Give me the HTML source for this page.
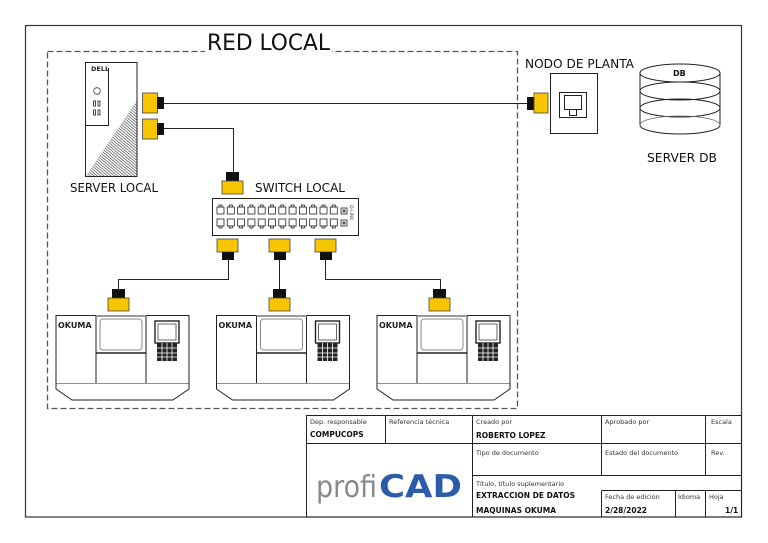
<!DOCTYPE html>
<html><head><meta charset="utf-8"><style>
html,body{margin:0;padding:0;background:#fff}
svg{display:block}
text{font-family:"DejaVu Sans","Liberation Sans",sans-serif}
</style></head><body>
<svg width="768" height="543" viewBox="0 0 768 543" xmlns="http://www.w3.org/2000/svg">
<defs>
<pattern id="hatch" width="2.2" height="2.2" patternUnits="userSpaceOnUse" patternTransform="rotate(-50)">
<rect width="2.2" height="2.2" fill="#fff"/><line x1="0" y1="0" x2="0" y2="2.2" stroke="#333" stroke-width="1.2"/>
</pattern>
<g id="portU"><rect x="0" y="2" width="7" height="7" fill="#fff" stroke="#222" stroke-width="0.8"/><rect x="2" y="0" width="3" height="2" fill="#fff" stroke="#222" stroke-width="0.8"/></g>
<g id="portD"><rect x="0" y="0" width="7" height="7" fill="#fff" stroke="#222" stroke-width="0.8"/><rect x="2" y="7" width="3" height="2" fill="#fff" stroke="#222" stroke-width="0.8"/></g>
<g id="conDown"><rect x="0" y="0" width="21" height="13" fill="#f7c600" stroke="#444" stroke-width="0.8"/><rect x="5" y="13" width="12" height="8" fill="#111"/></g>
<g id="conUp"><rect x="4" y="0" width="13" height="9" fill="#111"/><rect x="0" y="9" width="21" height="13" fill="#f7c600" stroke="#444" stroke-width="0.8"/></g>
<g id="machine" fill="none" stroke="#222" stroke-width="1">
<rect x="56" y="315.5" width="133" height="68" fill="#fff"/>
<path d="M56 383.5 V389 L72 400 H173 L189 389 V383.5" fill="#fff"/>
<line x1="96" y1="315.5" x2="96" y2="383.5"/>
<line x1="146" y1="315.5" x2="146" y2="383.5"/>
<rect x="96" y="315" width="50" height="2" fill="#999" stroke="none"/>
<line x1="96" y1="353" x2="146" y2="353" stroke-width="1.4"/>
<rect x="100" y="319" width="42" height="31" rx="3" stroke="#888"/>
<rect x="155" y="321" width="24" height="22" stroke-width="1.4"/>
<rect x="158" y="324" width="18" height="16" stroke="#666"/>
<rect x="157" y="343" width="20" height="18" fill="#222" stroke="none"/>
<path d="M157 348H177M157 353H177M157 357H177M162 343V361M167 343V361M172 343V361" stroke="#fff" stroke-width="0.8"/>
<text x="58" y="328" font-size="8" font-weight="bold" fill="#222" stroke="none">OKUMA</text>
</g>
</defs>

<rect x="25.5" y="25.5" width="716" height="491.5" fill="none" stroke="#333" stroke-width="1.2"/>
<rect x="47.5" y="51.5" width="470" height="357" fill="none" stroke="#555" stroke-width="1.3" stroke-dasharray="6,3"/>
<rect x="205" y="40" width="127" height="14" fill="#fff"/>
<text x="207" y="50" font-size="22" fill="#111" textLength="123" lengthAdjust="spacingAndGlyphs">RED LOCAL</text>

<rect x="85.5" y="62.5" width="51.5" height="114" fill="#fff" stroke="#222"/>
<polygon points="86,176 136.5,101 136.5,176" fill="url(#hatch)"/>
<path d="M108.5 68V125.5H85.5" fill="none" stroke="#222"/>
<text x="91" y="71" font-size="6.5" font-weight="bold" fill="#222">DELL</text>
<circle cx="97" cy="91" r="3.3" fill="none" stroke="#444" stroke-width="0.8"/>
<g fill="none" stroke="#222" stroke-width="0.8"><rect x="93.5" y="101" width="2" height="5"/><rect x="98" y="101" width="2" height="5"/><rect x="93.5" y="110" width="2" height="5"/><rect x="98" y="110" width="2" height="5"/></g>
<rect x="142.5" y="93" width="15" height="20" fill="#f7c600" stroke="#444" stroke-width="0.8"/><rect x="157" y="97" width="7" height="12" fill="#111"/>
<rect x="142.5" y="119" width="15" height="20" fill="#f7c600" stroke="#444" stroke-width="0.8"/><rect x="157" y="123" width="7" height="12" fill="#111"/>
<text x="70" y="192" font-size="12.5" fill="#111" textLength="88" lengthAdjust="spacingAndGlyphs">SERVER LOCAL</text>

<g fill="none" stroke="#222" stroke-width="1">
<path d="M164 103.5H527"/>
<path d="M164 128.5H233.5V172"/>
<path d="M228.5 260V279.5H118.5V290"/>
<path d="M279.5 260V290"/>
<path d="M325.5 260V279.5H440.5V290"/>
</g>

<use href="#conUp" x="222" y="172"/>
<text x="255" y="192" font-size="12.5" fill="#111" textLength="90" lengthAdjust="spacingAndGlyphs">SWITCH LOCAL</text>
<rect x="212.5" y="198.5" width="146" height="37" fill="#fff" stroke="#222"/>
<g>
<use href="#portU" x="217" y="205"/><use href="#portU" x="227.3" y="205"/><use href="#portU" x="237.6" y="205"/><use href="#portU" x="247.9" y="205"/><use href="#portU" x="258.2" y="205"/><use href="#portU" x="268.5" y="205"/><use href="#portU" x="278.8" y="205"/><use href="#portU" x="289.1" y="205"/><use href="#portU" x="299.4" y="205"/><use href="#portU" x="309.7" y="205"/><use href="#portU" x="320" y="205"/><use href="#portU" x="330.3" y="205"/>
<use href="#portD" x="217" y="219"/><use href="#portD" x="227.3" y="219"/><use href="#portD" x="237.6" y="219"/><use href="#portD" x="247.9" y="219"/><use href="#portD" x="258.2" y="219"/><use href="#portD" x="268.5" y="219"/><use href="#portD" x="278.8" y="219"/><use href="#portD" x="289.1" y="219"/><use href="#portD" x="299.4" y="219"/><use href="#portD" x="309.7" y="219"/><use href="#portD" x="320" y="219"/><use href="#portD" x="330.3" y="219"/>
<rect x="341" y="208" width="6" height="6" fill="#fff" stroke="#222" stroke-width="0.8"/><rect x="342.5" y="209.5" width="3" height="3" fill="#555"/>
<rect x="341" y="220" width="6" height="6" fill="#fff" stroke="#222" stroke-width="0.8"/><rect x="342.5" y="221.5" width="3" height="3" fill="#555"/>
<text x="0" y="0" font-size="4.5" fill="#333" transform="translate(350 205) rotate(90)">D-LINK</text>
</g>
<use href="#conDown" x="217" y="239"/>
<use href="#conDown" x="269" y="239"/>
<use href="#conDown" x="315" y="239"/>

<use href="#conUp" x="108" y="289"/>
<use href="#conUp" x="269" y="289"/>
<use href="#conUp" x="429" y="289"/>
<use href="#machine"/>
<use href="#machine" x="160.5"/>
<use href="#machine" x="321"/>

<text x="525" y="68" font-size="12.5" fill="#111" textLength="109" lengthAdjust="spacingAndGlyphs">NODO DE PLANTA</text>
<rect x="527" y="97" width="7" height="13" fill="#111"/>
<rect x="534" y="93" width="14" height="20" fill="#f7c600" stroke="#444" stroke-width="0.8"/>
<rect x="550.5" y="73.5" width="47" height="60" fill="#fff" stroke="#222"/>
<rect x="559.5" y="92.5" width="27" height="25" fill="none" stroke="#222"/>
<rect x="564.5" y="95.5" width="17" height="14" fill="none" stroke="#222"/>
<rect x="569.5" y="109.5" width="7" height="6" fill="none" stroke="#222"/>

<g fill="none" stroke="#222" stroke-width="1">
<path d="M640 73V125M720 73V125"/>
<ellipse cx="680" cy="73" rx="40" ry="9" fill="#fff"/>
<ellipse cx="680" cy="91" rx="40" ry="9"/>
<ellipse cx="680" cy="108" rx="40" ry="9"/>
<path d="M640 125A40 9 0 0 0 720 125"/>
<path d="M640 125A40 9 0 0 1 720 125" stroke="#666" stroke-width="0.8"/>
</g>
<text x="673" y="76" font-size="8" font-weight="bold" fill="#111">DB</text>
<text x="647" y="162" font-size="12.5" fill="#111" textLength="70" lengthAdjust="spacingAndGlyphs">SERVER DB</text>

<g fill="none" stroke="#222" stroke-width="1">
<rect x="306.5" y="415.5" width="435" height="101.5"/>
<path d="M385.5 415.5V443.5M472.5 415.5V517M601.5 415.5V475.5M705.5 415.5V475.5M306.5 443.5H741.5M472.5 475.5H741.5M601.5 490.5H741.5M601.5 490.5V517M675.5 490.5V517M705.5 490.5V517"/>
</g>
<g font-size="6.5" fill="#333">
<text x="310" y="424">Dep. responsable</text>
<text x="389" y="424">Referencia técnica</text>
<text x="476" y="424">Creado por</text>
<text x="605" y="424">Aprobado por</text>
<text x="711" y="424">Escala</text>
<text x="476" y="455">Tipo de documento</text>
<text x="605" y="455">Estado del documento</text>
<text x="711" y="455">Rev.</text>
<text x="476" y="486">Título, título suplementario</text>
<text x="605" y="499">Fecha de edición</text>
<text x="678" y="499">Idioma</text>
<text x="709" y="499">Hoja</text>
</g>
<g font-size="7.5" font-weight="bold" fill="#111">
<text x="310" y="437">COMPUCOPS</text>
<text x="476" y="438">ROBERTO LOPEZ</text>
<text x="476" y="498">EXTRACCION DE DATOS</text>
<text x="476" y="513">MAQUINAS OKUMA</text>
<text x="605" y="513">2/28/2022</text>
<text x="725" y="513">1/1</text>
</g>
<text x="316" y="497" font-size="30" fill="#8a8a8a" font-family="Liberation Sans, sans-serif" textLength="61" lengthAdjust="spacingAndGlyphs">profi</text>
<text x="379" y="497" font-size="31" font-weight="bold" fill="#2b5caa" font-family="Liberation Sans, sans-serif" textLength="83" lengthAdjust="spacingAndGlyphs">CAD</text>
</svg>
</body></html>
